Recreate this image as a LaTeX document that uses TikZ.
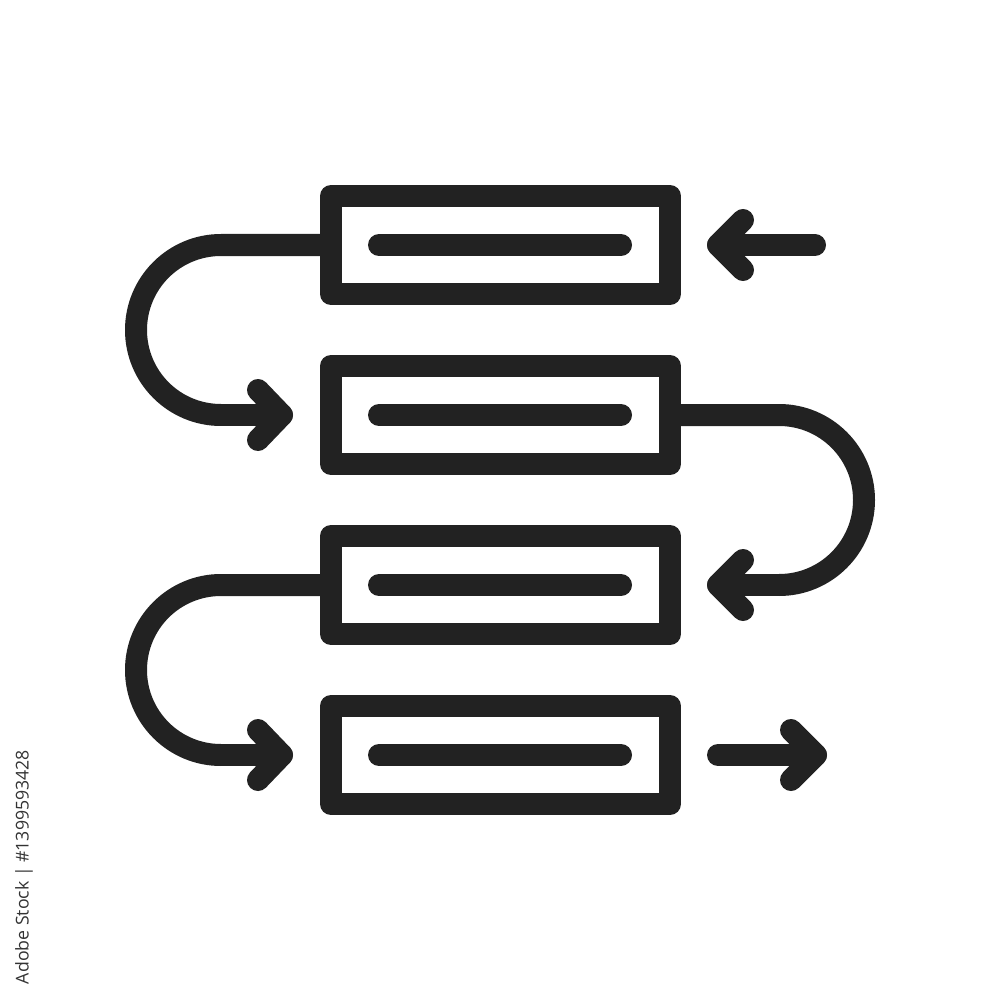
\documentclass[tikz,border=0pt]{standalone}
\usepackage{fontspec}
\setmainfont{Open Sans}
\definecolor{ink}{HTML}{222222}
\definecolor{wm}{HTML}{333333}
\begin{document}
\begin{tikzpicture}[x=1pt,y=-1pt,
  icon/.style={draw=ink,line width=22pt,line cap=round,line join=round},
  boxstyle/.style={icon,line cap=butt},
]
\useasboundingbox (0,0) rectangle (1000,1000);
% boxes
\foreach \i/\y in {1/245,2/415,3/585,4/755}{
  \draw[boxstyle] (331,\y-49) rectangle (670,\y+49);
  \draw[icon] (379,\y) -- (621,\y);
  \coordinate (bl\i) at (320,\y);
  \coordinate (br\i) at (681,\y);
}
% top-right incoming arrow
\coordinate (inS) at (815,245);
\coordinate (inT) at (718,245);
\draw[icon] (inS) -- (inT);
\draw[icon] (743,220) -- (inT) -- (743,270);
% left connector 1 -> 2
\coordinate (t2) at (282,415);
\draw[icon,line cap=butt] (bl1) -- (221,245) arc[start angle=270,end angle=90,radius=85];
\draw[icon] (221,415) -- (t2);
\draw[icon] (258,390) -- (t2) -- (258,440);
% right connector 2 -> 3
\coordinate (t3) at (718,585);
\draw[icon,line cap=butt] (br2) -- (779,415) arc[start angle=-90,end angle=90,radius=85];
\draw[icon] (779,585) -- (t3);
\draw[icon] (743,560) -- (t3) -- (743,610);
% left connector 3 -> 4
\coordinate (t4) at (282,755);
\draw[icon,line cap=butt] (bl3) -- (221,585) arc[start angle=270,end angle=90,radius=85];
\draw[icon] (221,755) -- (t4);
\draw[icon] (258,730) -- (t4) -- (258,780);
% outgoing arrow
\coordinate (outS) at (718,755);
\coordinate (outT) at (816,755);
\draw[icon] (outS) -- (outT);
\draw[icon] (791,730) -- (outT) -- (791,780);
% watermark label
\node[rotate=90,text=wm,font=\fontsize{17.7}{17.7}\selectfont,inner sep=0pt] (wmk) at (24,867) {Adobe Stock | \#1399593428};
\end{tikzpicture}
\end{document}
